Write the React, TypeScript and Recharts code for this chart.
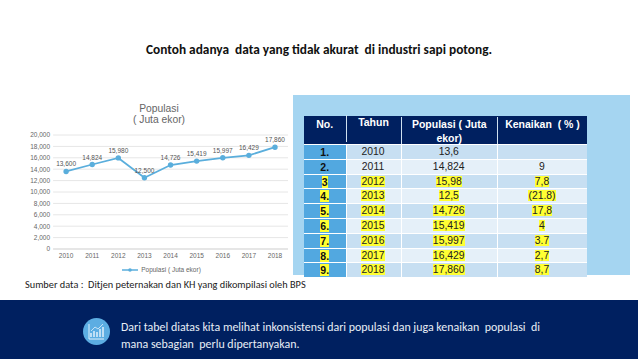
import React from "react";
import { LineChart, Line, XAxis, YAxis, CartesianGrid, Legend, LabelList } from "recharts";

const years = ["2010", "2011", "2012", "2013", "2014", "2015", "2016", "2017", "2018"];
const populasi = [13600, 14824, 15980, 12500, 14726, 15419, 15997, 16429, 17860];
const yTicks = [0, 2000, 4000, 6000, 8000, 10000, 12000, 14000, 16000, 18000, 20000];
const seriesName = "Populasi ( Juta ekor)";

const tableNo = ["1.", "2.", "3", "4.", "5.", "6.", "7.", "8.", "9."];
const tableTahun = ["2010", "2011", "2012", "2013", "2014", "2015", "2016", "2017", "2018"];
const tablePop = ["13,6", "14,824", "15,98", "12,5", "14,726", "15,419", "15,997", "16,429", "17,860"];
const tableNaik = ["", "9", "7,8", "(21.8)", "17,8", "4", "3.7", "2,7", "8,7"];
const headers = ["No.", "Tahun", "Populasi ( Juta ekor)", "Kenaikan  ( % )"];

const chartData = years.map((y, i) => ({ year: y, value: populasi[i] }));
const fmt = (v: number) => v.toLocaleString("en-US");

const arial = "'Liberation Sans', Arial, sans-serif";
const lato = "Carlito, Lato, sans-serif";
const abs = (l: number, t: number, w: number, h: number): React.CSSProperties => ({
  position: "absolute", left: l, top: t, width: w, height: h,
});

const colX = [304, 345.5, 400.5, 497, 587];
const rowH = 14.8;
const tableTop = 144;

function Mark({ text, on, bold }: { text: string; on: boolean; bold?: boolean }) {
  return <span style={{ background: on ? "#ffff33" : "transparent", fontWeight: bold ? 700 : 400 }}>{text}</span>;
}

function LegendBox() {
  return (
    <div style={{ display: "flex", alignItems: "center", justifyContent: "center", gap: 3, fontSize: 6.5, color: "#666", fontFamily: arial, transform: "translate(-9px, 2px)" }}>
      <svg width={16} height={6}>
        <line x1={0} y1={3} x2={16} y2={3} stroke="#5aaedc" strokeWidth={1.5} />
        <circle cx={8} cy={3} r={1.8} fill="#5aaedc" />
      </svg>
      <span>{seriesName}</span>
    </div>
  );
}

export default function App() {
  return (
    <div style={{ ...abs(0, 0, 638, 359), background: "#fff", overflow: "hidden", fontFamily: arial }}>
      <div style={{ ...abs(0, 41, 638, 18), textAlign: "center", fontFamily: lato, fontWeight: 700, fontSize: 13.35, color: "#111", whiteSpace: "pre" }}>
        {"Contoh adanya  data yang tidak akurat  di industri sapi potong."}
      </div>

      <div style={{ ...abs(19, 103, 280, 32), textAlign: "center", fontSize: 10.3, lineHeight: "11px", color: "#666", whiteSpace: "pre" }}>
        {"Populasi\n( Juta ekor)"}
      </div>

      <div style={abs(20, 125, 280, 153)}>
        <LineChart width={280} height={153} data={chartData} margin={{ top: 10, right: 12, bottom: 0, left: 33 }}>
          <CartesianGrid vertical={false} stroke="#e6e6e6" strokeWidth={1} />
          <XAxis dataKey="year" axisLine={{ stroke: "#d9d9d9" }} tickLine={false} tick={{ fontSize: 6.5, fill: "#666", fontFamily: arial, dy: -3 }} tickMargin={1} height={15} interval={0} padding={{ left: 13, right: 13 }} />
          <YAxis domain={[0, 20000]} ticks={yTicks} width={0.1} axisLine={false} tickLine={false} tickFormatter={fmt} tick={{ fontSize: 6.5, fill: "#666", fontFamily: arial, dx: 5 }} interval={0} />
          <Legend verticalAlign="bottom" align="center" height={14} content={() => <LegendBox />} />
          <Line type="linear" dataKey="value" name={seriesName} stroke="#5aaedc" strokeWidth={1.8} dot={{ r: 1.8, fill: "#5aaedc", stroke: "#5aaedc" }} isAnimationActive={false}>
            <LabelList dataKey="value" position="top" offset={5} formatter={fmt as any} style={{ fontSize: 6.5, fill: "#555", fontFamily: arial }} />
          </Line>
        </LineChart>
      </div>

      <div style={{ ...abs(293, 95, 337, 180), background: "#a5d5f1" }} />

      <div style={{ ...abs(304, 116, 283, 28), background: "#002060" }} />
      {headers.map((h, i) => (
        <div key={h} style={{
          ...abs(colX[i], 117, colX[i + 1] - colX[i], 27), color: "#fff", fontWeight: 700,
          fontSize: 10.5, lineHeight: "14px", textAlign: "center", top: i === 1 ? 115 : 117,
          borderLeft: i ? "1px solid #cfe0ef" : "none", boxSizing: "border-box",
          whiteSpace: i === 3 ? "pre" : "normal",
        }}>{h}</div>
      ))}

      {tableNo.map((no, r) => {
        const t = tableTop + r * rowH;
        const hl = r >= 2;
        const cells = [tableTahun[r], tablePop[r], tableNaik[r]];
        return (
          <React.Fragment key={no}>
            <div style={{ ...abs(304, t, 41.5, rowH), background: "#52a8e0" }} />
            <div style={{ ...abs(345.5, t, 241.5, rowH), background: r % 2 === 0 ? "#c7dff2" : "#e5f0f9" }} />
            <div style={{ ...abs(304, t + 1, 41.5, rowH), textAlign: "center", fontSize: 10.5, lineHeight: `${rowH}px`, color: "#111" }}>
              <Mark text={no} on={hl} bold />
            </div>
            {cells.map((c, i) => (
              <div key={i} style={{ ...abs(colX[i + 1], t + 1, colX[i + 2] - colX[i + 1], rowH), textAlign: "center", fontSize: 10.4, lineHeight: `${rowH}px`, color: "#222" }}>
                <Mark text={c} on={hl && c !== ""} />
              </div>
            ))}
            {[345.5, 400.5, 497].map((x) => (
              <div key={x} style={{ ...abs(x, t, 1, rowH), background: "#fff" }} />
            ))}
            <div style={{ ...abs(304, t, 283, 0.6), background: "#fff" }} />
          </React.Fragment>
        );
      })}

      <div style={{ ...abs(25, 278, 340, 14), fontFamily: lato, fontSize: 10.3, lineHeight: "14px", color: "#222", whiteSpace: "pre" }}>
        {"Sumber data :  Ditjen peternakan dan KH yang dikompilasi oleh BPS"}
      </div>

      <div style={{ ...abs(0, 300, 638, 59), background: "#002060" }} />
      <div style={{ ...abs(83, 318, 27, 27), borderRadius: "50%", background: "#5cade2" }} />
      <svg style={abs(87, 322, 19, 19)} viewBox="0 0 19 19">
        <path d="M2 2V17H17" fill="none" stroke="#dff0fb" strokeWidth="1" />
        <path d="M4 15V11M7 15V9M10 15V10M13 15V7M16 15V5" stroke="#dff0fb" strokeWidth="1.5" />
        <path d="M4 9L8 5L11 7L16 2" fill="none" stroke="#dff0fb" strokeWidth="0.8" />
      </svg>
      <div style={{ ...abs(121, 319, 480, 34), fontFamily: lato, fontSize: 11.95, lineHeight: "17px", color: "#e8eef6", whiteSpace: "pre" }}>
        {"Dari tabel diatas kita melihat inkonsistensi dari populasi dan juga kenaikan  populasi  di\nmana sebagian  perlu dipertanyakan."}
      </div>
    </div>
  );
}
